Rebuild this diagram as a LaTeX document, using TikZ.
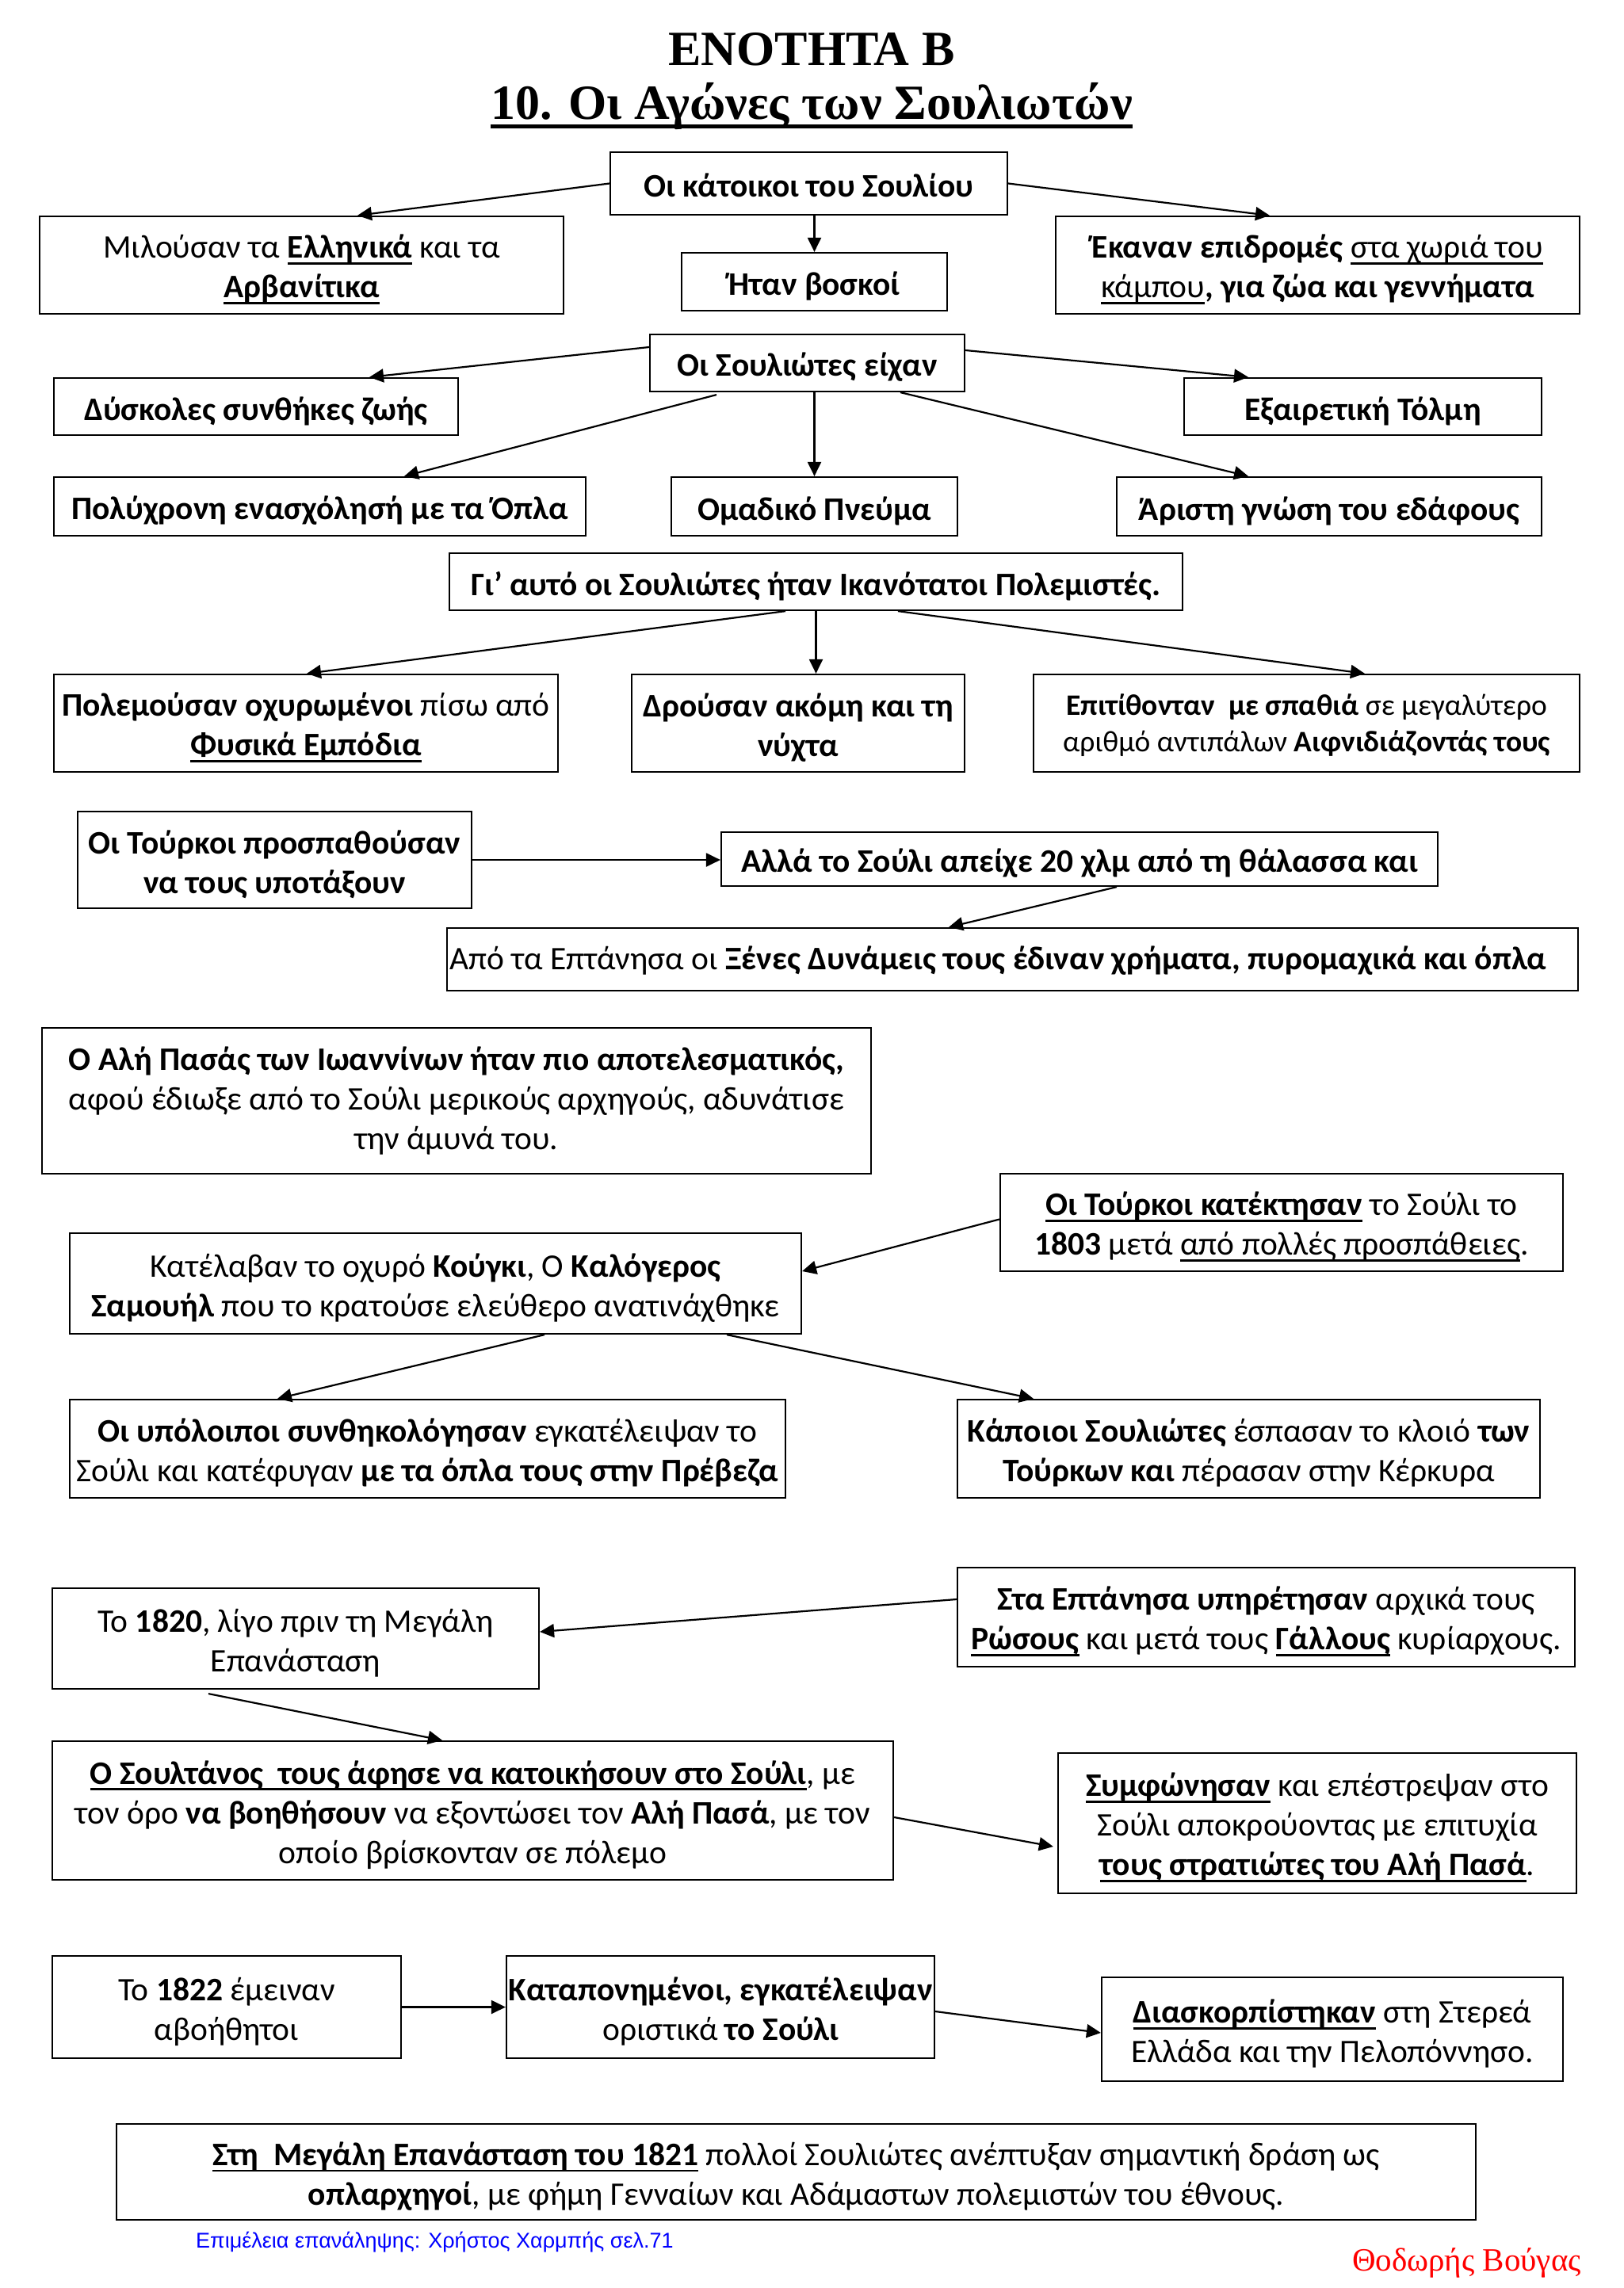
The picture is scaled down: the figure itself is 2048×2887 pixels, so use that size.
\documentclass[tikz,border=0pt]{standalone}
\usepackage{fontspec}
\setmainfont{Carlito}
\newfontfamily\titlefont{Liberation Serif}
\newfontfamily\footsans{Liberation Sans}
\usetikzlibrary{arrows.meta}
\newcommand\ulx[1]{\setbox0\hbox{#1}\rlap{\rule[-8pt]{\wd0}{2.8pt}}\box0\relax}
\newcommand\ttlul[1]{\setbox0\hbox{#1}\rlap{\rule[-11pt]{\wd0}{4.5pt}}\box0\relax}
\begin{document}
\begin{tikzpicture}[x=1pt,y=-1pt,
  box/.style={draw, line width=2.2pt, inner sep=0pt},
  txt/.style={align=center, inner sep=0pt, yshift=-5.5pt,
    font=\fontsize{41.5}{50}\selectfont},
  arr/.style={line width=2.2pt, -{Triangle[length=18pt,width=17pt]}}]
\useasboundingbox[fill=white] (0,0) rectangle (2048,2887);
% titles
\node[anchor=base, font=\titlefont\bfseries\fontsize{62}{70}\selectfont] (t1) at (1024,83) {ΕΝΟΤΗΤΑ Β};
\node[anchor=base, font=\titlefont\bfseries\fontsize{62}{70}\selectfont] (t2) at (1024,151) {\ttlul{10. Οι Αγώνες των Σουλιωτών}};
% row 1
\node[box, minimum width=501pt, minimum height=79pt] (B1) at (1020.5,231.5) {};
\node[txt, yshift=3.5pt] (B1t) at (B1.center) {\textbf{Οι κάτοικοι του Σουλίου}};
\node[box, minimum width=661pt, minimum height=123pt] (B2) at (380.5,334.5) {};
\node[txt] (B2t) at (B2.center) {Μιλούσαν τα \ulx{\textbf{Ελληνικά}} και τα\\ \ulx{\textbf{Αρβανίτικα}}};
\node[box, minimum width=335pt, minimum height=73pt] (B3) at (1027.5,355.5) {};
\node[txt] (B3t) at (B3.center) {\textbf{Ήταν βοσκοί}};
\node[box, minimum width=661pt, minimum height=123pt] (B4) at (1662.5,334.5) {};
\node[txt] (B4t) at (B4.center) {\textbf{Έκαναν επιδρομές} \ulx{στα χωριά του}\\ \ulx{κάμπου}\textbf{, για ζώα και γεννήματα}};
% row 2
\node[box, minimum width=397pt, minimum height=72pt] (B5) at (1018.5,458) {};
\node[txt] (B5t) at (B5.center) {\textbf{Οι Σουλιώτες είχαν}};
\node[box, minimum width=510pt, minimum height=72pt] (B6) at (323,513) {};
\node[txt] (B6t) at (B6.center) {\textbf{Δύσκολες συνθήκες ζωής}};
\node[box, minimum width=451pt, minimum height=72pt] (B7) at (1719.5,513) {};
\node[txt] (B7t) at (B7.center) {\textbf{Εξαιρετική Τόλμη}};
\node[box, minimum width=671pt, minimum height=74pt] (B8) at (403.5,639) {};
\node[txt] (B8t) at (B8.center) {\textbf{Πολύχρονη ενασχόλησή με τα Όπλα}};
\node[box, minimum width=361pt, minimum height=74pt] (B9) at (1027.5,639) {};
\node[txt] (B9t) at (B9.center) {\textbf{Ομαδικό Πνεύμα}};
\node[box, minimum width=536pt, minimum height=74pt] (B10) at (1677,639) {};
\node[txt] (B10t) at (B10.center) {\textbf{Άριστη γνώση του εδάφους}};
% row 3
\node[box, minimum width=925pt, minimum height=72pt] (B11) at (1029.5,734) {};
\node[txt] (B11t) at (B11.center) {\textbf{Γι’ αυτό οι Σουλιώτες ήταν Ικανότατοι Πολεμιστές.}};
\node[box, minimum width=636pt, minimum height=123pt] (B12) at (386,912.5) {};
\node[txt] (B12t) at (B12.center) {\textbf{Πολεμούσαν οχυρωμένοι} πίσω από\\ \ulx{\textbf{Φυσικά Εμπόδια}}};
\node[box, minimum width=420pt, minimum height=123pt] (B13) at (1007,912.5) {};
\node[txt] (B13t) at (B13.center) {\textbf{Δρούσαν ακόμη και τη}\\ \textbf{νύχτα}};
\node[box, minimum width=689pt, minimum height=123pt] (B14) at (1648.5,912.5) {};
\node[txt, yshift=2.5pt, font=\fontsize{37.5}{46}\selectfont] (B14t) at (B14.center) {\textbf{Επιτίθονταν\ \ με σπαθιά} σε μεγαλύτερο\\ αριθμό αντιπάλων \textbf{Αιφνιδιάζοντάς τους}};
% row 4
\node[box, minimum width=497pt, minimum height=122pt] (B15) at (346.5,1085) {};
\node[txt] (B15t) at (B15.center) {\textbf{Οι Τούρκοι προσπαθούσαν}\\ \textbf{να τους υποτάξουν}};
\node[box, minimum width=904pt, minimum height=68pt] (B16) at (1362,1084) {};
\node[txt] (B16t) at (B16.center) {\textbf{Αλλά το Σούλι απείχε 20 χλμ από τη θάλασσα και}};
\node[box, minimum width=1427pt, minimum height=79pt] (B17) at (1277.5,1210.5) {};
\node[txt, yshift=3.5pt, anchor=west] (B17t) at ([xshift=4pt]B17.west) {Από τα Επτάνησα οι \textbf{Ξένες Δυνάμεις τους έδιναν χρήματα, πυρομαχικά και όπλα}};
% row 5
\node[box, minimum width=1046pt, minimum height=184pt] (B18) at (576,1389) {};
\node[txt, yshift=5.5pt] (B18t) at (B18.center) {\textbf{Ο Αλή Πασάς των Ιωαννίνων ήταν πιο αποτελεσματικός,}\\ αφού έδιωξε από το Σούλι μερικούς αρχηγούς, αδυνάτισε\\ την άμυνά του.};
\node[box, minimum width=710pt, minimum height=123pt] (B19) at (1617,1542.5) {};
\node[txt] (B19t) at (B19.center) {\ulx{\textbf{Οι Τούρκοι κατέκτησαν}} το Σούλι το\\ \textbf{1803} μετά \ulx{από πολλές προσπάθειες}.};
\node[box, minimum width=923pt, minimum height=127pt] (B20) at (549.5,1619.5) {};
\node[txt] (B20t) at (B20.center) {Κατέλαβαν το οχυρό \textbf{Κούγκι}, Ο \textbf{Καλόγερος}\\ \textbf{Σαμουήλ} που το κρατούσε ελεύθερο ανατινάχθηκε};
\node[box, minimum width=903pt, minimum height=124pt] (B21) at (539.5,1828) {};
\node[txt] (B21t) at (B21.center) {\textbf{Οι υπόλοιποι συνθηκολόγησαν} εγκατέλειψαν το\\ Σούλι και κατέφυγαν \textbf{με τα όπλα τους στην Πρέβεζα}};
\node[box, minimum width=735pt, minimum height=124pt] (B22) at (1575.5,1828) {};
\node[txt] (B22t) at (B22.center) {\textbf{Κάποιοι Σουλιώτες} έσπασαν το κλοιό \textbf{των}\\ \textbf{Τούρκων και} πέρασαν στην Κέρκυρα};
% row 6
\node[box, minimum width=614pt, minimum height=127pt] (B23) at (373,2067.5) {};
\node[txt] (B23t) at (B23.center) {Το \textbf{1820}, λίγο πριν τη Μεγάλη\\ Επανάσταση};
\node[box, minimum width=779pt, minimum height=125pt] (B24) at (1597.5,2040.5) {};
\node[txt] (B24t) at (B24.center) {\textbf{Στα Επτάνησα υπηρέτησαν} αρχικά τους\\ \ulx{\textbf{Ρώσους}} και μετά τους \ulx{\textbf{Γάλλους}} κυρίαρχους.};
\node[box, minimum width=1061pt, minimum height=175pt] (B25) at (596.5,2284.5) {};
\node[txt] (B25t) at (B25.center) {\ulx{\textbf{Ο Σουλτάνος\ \ τους άφησε να κατοικήσουν στο Σούλι}}, με\\ τον όρο \textbf{να βοηθήσουν} να εξοντώσει τον \textbf{Αλή Πασά}, με τον\\ οποίο βρίσκονταν σε πόλεμο};
\node[box, minimum width=654pt, minimum height=177pt] (B26) at (1662,2300.5) {};
\node[txt] (B26t) at (B26.center) {\ulx{\textbf{Συμφώνησαν}} και επέστρεψαν στο\\ Σούλι αποκρούοντας με επιτυχία\\ \ulx{\textbf{τους στρατιώτες του Αλή Πασά}}.};
% row 7
\node[box, minimum width=440pt, minimum height=129pt] (B27) at (286,2532.5) {};
\node[txt] (B27t) at (B27.center) {Το \textbf{1822} έμειναν\\ αβοήθητοι};
\node[box, minimum width=540pt, minimum height=129pt] (B28) at (909,2532.5) {};
\node[txt] (B28t) at (B28.center) {\textbf{Καταπονημένοι, εγκατέλειψαν}\\ οριστικά \textbf{το Σούλι}};
\node[box, minimum width=582pt, minimum height=131pt] (B29) at (1681,2560.5) {};
\node[txt] (B29t) at (B29.center) {\ulx{\textbf{Διασκορπίστηκαν}} στη Στερεά\\ Ελλάδα και την Πελοπόννησο.};
\node[box, minimum width=1715pt, minimum height=121pt] (B30) at (1004.5,2740.5) {};
\node[txt] (B30t) at (B30.center) {\ulx{\textbf{Στη\ \ Μεγάλη Επανάσταση του 1821}} πολλοί Σουλιώτες ανέπτυξαν σημαντική δράση ως\\ \textbf{οπλαρχηγοί}, με φήμη Γενναίων και Αδάμαστων πολεμιστών του έθνους.};
% footer
\node[anchor=base west, inner sep=0pt, text=blue, font=\footsans\fontsize{27}{32}\selectfont] (f1) at (247,2836) {Επιμέλεια επανάληψης: Χρήστος Χαρμπής σελ.71};
\node[anchor=base east, inner sep=0pt, text=red, font=\titlefont\fontsize{41}{46}\selectfont] (f2) at (1995,2865) {Θοδωρής Βούγας};
% arrows
\draw[arr] (B1.west) -- ([xshift=70.5pt]B2.north);
\draw[arr] (B3.north |- B1.south) -- (B3.north);
\draw[arr] (B1.east) -- ([xshift=-60.5pt]B4.north);
\draw[arr] ([yshift=20pt]B5.west) -- ([xshift=143pt]B6.north);
\draw[arr] ([xshift=-114.5pt,yshift=-3pt]B5.south) -- ([xshift=106.5pt]B8.north);
\draw[arr] (B9.north |- B5.south) -- (B9.north);
\draw[arr] ([xshift=117.5pt]B5.south) -- ([xshift=-102pt]B10.north);
\draw[arr] ([yshift=16pt]B5.east) -- ([xshift=-144.5pt]B7.north);
\draw[arr] ([xshift=-38.5pt]B11.south) -- ([xshift=1pt]B12.north);
\draw[arr] (B11.south) -- (B13.north -| B11.south);
\draw[arr] ([xshift=103.5pt]B11.south) -- ([xshift=73.5pt]B14.north);
\draw[arr] (B15.east) -- (B15.east -| B16.west);
\draw[arr] ([xshift=47pt]B16.south) -- ([xshift=-80.5pt]B17.north);
\draw[arr] ([yshift=4pt]B19.west) -- ([yshift=15.5pt]B20.east);
\draw[arr] ([xshift=137.5pt]B20.south) -- ([xshift=-189.5pt]B21.north);
\draw[arr] ([xshift=367.5pt]B20.south) -- ([xshift=-271.5pt]B22.north);
\draw[arr] ([yshift=22.5pt]B24.west) -- ([yshift=8.5pt]B23.east);
\draw[arr] ([xshift=-110pt,yshift=-5pt]B23.south) -- ([xshift=-38.5pt]B25.north);
\draw[arr] ([yshift=-8.5pt]B25.east) -- ([xshift=-5pt,yshift=-29.5pt]B26.west);
\draw[arr] (B27.east) -- (B27.east -| B28.west);
\draw[arr] ([yshift=-5.5pt]B28.east) -- ([yshift=-4.5pt]B29.west);
\end{tikzpicture}
\end{document}
